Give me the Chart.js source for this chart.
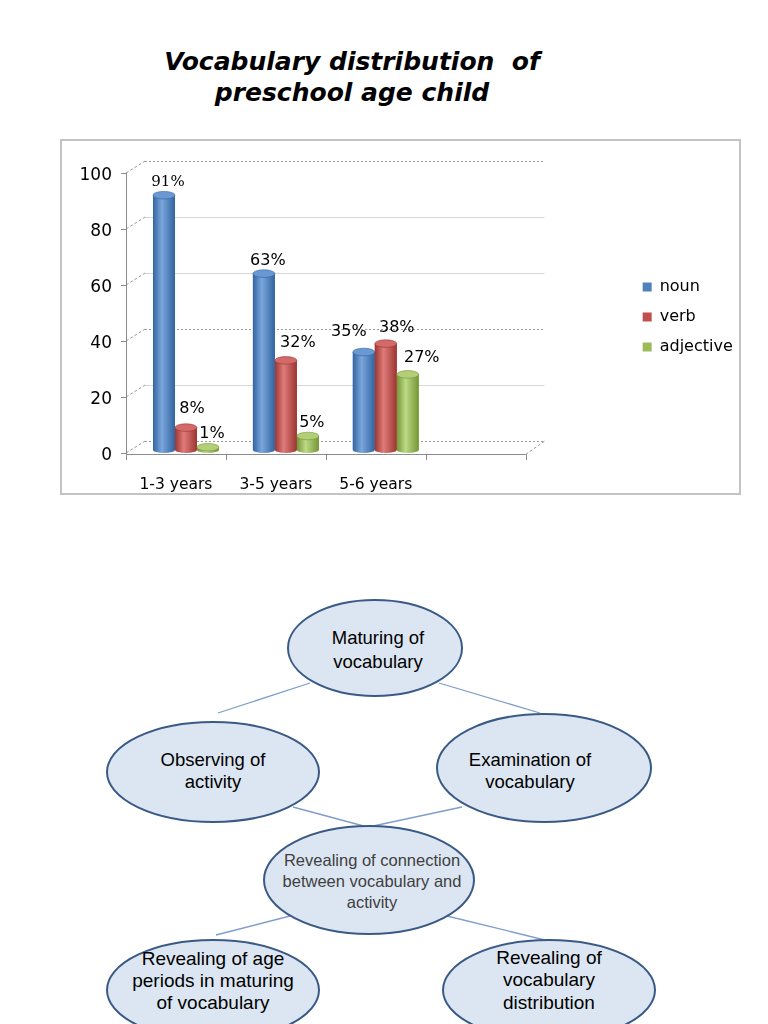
<!DOCTYPE html>
<html><head><meta charset="utf-8">
<script src="https://cdn.jsdelivr.net/npm/chart.js@4.4.1/dist/chart.umd.min.js"></script>
<style>
html,body{margin:0;padding:0;background:#fff;width:768px;height:1024px;overflow:hidden;position:relative;font-family:"DejaVu Sans";}
#title{position:absolute;left:0;width:704px;top:46px;text-align:center;font:italic bold 25px "DejaVu Sans";line-height:31px;color:#000;}
#frame{position:absolute;left:60px;top:139px;width:681px;height:356px;border:2px solid #c3c3c3;box-sizing:border-box;z-index:2;pointer-events:none;}
#wrap{position:absolute;left:62px;top:141px;width:680px;height:352px;z-index:1;}
#diagram{position:absolute;left:0;top:0;z-index:0;}
</style></head>
<body>
<div id="title">Vocabulary distribution&nbsp; of<br>preschool age child</div>
<div id="frame"></div>
<div id="wrap"><canvas id="c" width="680" height="352"></canvas></div>
<svg id="diagram" width="768" height="1024" xmlns="http://www.w3.org/2000/svg">
  <g stroke="#7f9dcb" stroke-width="1.3">
    <line x1="310" y1="683" x2="218" y2="713"/>
    <line x1="439" y1="683" x2="540" y2="713"/>
    <line x1="293" y1="807" x2="371" y2="828"/>
    <line x1="462" y1="807" x2="364" y2="828"/>
    <line x1="290" y1="916" x2="216" y2="935"/>
    <line x1="447" y1="916" x2="553" y2="942"/>
  </g>
  <g fill="#dce6f2" stroke="#3a5a85" stroke-width="2">
    <ellipse cx="375" cy="648" rx="87" ry="48"/>
    <ellipse cx="213" cy="772" rx="106" ry="50"/>
    <ellipse cx="544" cy="768" rx="107" ry="54"/>
    <ellipse cx="369" cy="880" rx="105" ry="54"/>
    <ellipse cx="213" cy="990" rx="106" ry="50"/>
    <ellipse cx="549" cy="990" rx="106" ry="50"/>
  </g>
  <g font-family="Liberation Sans" font-size="18.5" fill="#000" text-anchor="middle">
    <text x="378" y="644">Maturing of</text>
    <text x="378" y="668">vocabulary</text>
    <text x="213" y="766">Observing of</text>
    <text x="213" y="788">activity</text>
    <text x="530" y="766">Examination of</text>
    <text x="530" y="788">vocabulary</text>
  </g>
  <g font-family="Liberation Sans" font-size="16.5" fill="#404040" text-anchor="middle">
    <text x="372" y="866">Revealing of connection</text>
    <text x="372" y="887">between vocabulary and</text>
    <text x="372" y="908">activity</text>
  </g>
  <g font-family="Liberation Sans" font-size="19" fill="#000" text-anchor="middle">
    <text x="213" y="965">Revealing of age</text>
    <text x="213" y="987">periods in maturing</text>
    <text x="213" y="1009">of vocabulary</text>
    <text x="549" y="964">Revealing of</text>
    <text x="549" y="986">vocabulary</text>
    <text x="549" y="1009">distribution</text>
  </g>
</svg>
<script>
// ---- data ----
const categories = ['1-3 years', '3-5 years', '5-6 years', ''];
const seriesNames = ['noun', 'verb', 'adjective'];
const nounValues = [91, 63, 35, null];
const verbValues = [8, 32, 38, null];
const adjectiveValues = [1, 5, 27, null];
const yTicks = [0, 20, 40, 60, 80, 100];

// ---- style ----
const colors = [
  {base:'#4f81bd', dark:'#32649f', light:'#7aa6dc', cap:'#6a98d2'},
  {base:'#c0504d', dark:'#9a3532', light:'#df7b78', cap:'#d46a67'},
  {base:'#9bbb59', dark:'#769536', light:'#bcd985', cap:'#b2cf77'}
];
const DX = 19, DY = -12, FRONT = -10, FRONT_DY = 3;
const labelNudge = {'1-0':[2,-6], '1-1':[8,-5], '0-2':[-19,-7], '1-2':[7,-3], '2-2':[10,-4]};

const box3d = {
  id: 'box3d',
  beforeDatasetsDraw(chart) {
    const {ctx, chartArea: a, scales: {x, y}} = chart;
    const fx = a.left + FRONT, fr = a.right + FRONT;
    const y0 = y.getPixelForValue(0) + FRONT_DY;
    ctx.save();
    yTicks.forEach((v) => {
      const py = y.getPixelForValue(v) + FRONT_DY;
      ctx.beginPath();
      if (v === 0 || v === 40 || v === 100) { ctx.setLineDash([2, 2]); ctx.strokeStyle = '#9a9a9a'; }
      else { ctx.setLineDash([]); ctx.strokeStyle = '#d6d6d6'; }
      ctx.lineWidth = 1;
      ctx.moveTo(fx + DX, py + DY + 0.5); ctx.lineTo(fr + DX, py + DY + 0.5); ctx.stroke();
      ctx.beginPath(); ctx.setLineDash([3, 2]); ctx.strokeStyle = '#9a9a9a';
      ctx.moveTo(fx, py); ctx.lineTo(fx + DX, py + DY); ctx.stroke();
      ctx.beginPath(); ctx.setLineDash([]); ctx.strokeStyle = '#8c8c8c';
      ctx.moveTo(fx - 5, py + 0.5); ctx.lineTo(fx, py + 0.5); ctx.stroke();
    });
    ctx.setLineDash([]);
    ctx.strokeStyle = '#8c8c8c'; ctx.lineWidth = 1;
    ctx.beginPath(); ctx.moveTo(fx + 0.5, y.getPixelForValue(100) + FRONT_DY); ctx.lineTo(fx + 0.5, y0 + 1); ctx.stroke();
    ctx.beginPath(); ctx.moveTo(fx, y0 + 1.5); ctx.lineTo(fr, y0 + 1.5); ctx.stroke();
    const cw = (a.right - a.left) / categories.length;
    for (let i = 0; i <= categories.length; i++) {
      const px = Math.round(fx + i * cw) + 0.5;
      ctx.beginPath(); ctx.moveTo(px, y0 + 1); ctx.lineTo(px, y0 + 7); ctx.stroke();
    }
    ctx.beginPath(); ctx.setLineDash([3, 2]); ctx.strokeStyle = '#9a9a9a';
    ctx.moveTo(fr, y0 + 1.5); ctx.lineTo(fr + DX, y0 + DY); ctx.stroke();
    ctx.restore();
  },
  afterDatasetsDraw(chart) {
    const {ctx} = chart;
    ctx.save();
    chart.data.datasets.forEach((ds, di) => {
      const meta = chart.getDatasetMeta(di);
      const c = colors[di];
      meta.data.forEach((el, i) => {
        const v = ds.data[i];
        if (v === null || v === undefined) return;
        const w = el.width, left = el.x - w / 2;
        const g = ctx.createLinearGradient(left, 0, left + w, 0);
        g.addColorStop(0, c.dark); g.addColorStop(0.4, c.light); g.addColorStop(1, c.dark);
        ctx.fillStyle = g;
        ctx.fillRect(left, el.y, w, el.base - el.y);
        ctx.beginPath(); ctx.ellipse(el.x, el.base, w / 2, 3, 0, 0, Math.PI); ctx.fill();
        ctx.beginPath(); ctx.ellipse(el.x, el.y, w / 2, 3.8, 0, 0, 2 * Math.PI);
        ctx.fillStyle = c.cap; ctx.fill();
        ctx.strokeStyle = c.dark; ctx.lineWidth = 0.6; ctx.stroke();
        const n = labelNudge[di + '-' + i] || [0, 0];
        ctx.fillStyle = '#000';
        ctx.font = (di === 0 && i === 0) ? '15px "DejaVu Serif"' : '16px "DejaVu Sans"';
        ctx.textAlign = 'center'; ctx.textBaseline = 'middle';
        ctx.fillText(v + '%', el.x + 4 + n[0], el.y - 13 + n[1]);
      });
    });
    ctx.restore();
  }
};

new Chart(document.getElementById('c'), {
  type: 'bar',
  data: {
    labels: categories,
    datasets: [
      {label: seriesNames[0], data: nounValues, backgroundColor: colors[0].base},
      {label: seriesNames[1], data: verbValues, backgroundColor: colors[1].base},
      {label: seriesNames[2], data: adjectiveValues, backgroundColor: colors[2].base}
    ]
  },
  options: {
    responsive: false,
    animation: false,
    devicePixelRatio: 1,
    layout: {padding: 0},
    datasets: {bar: {categoryPercentage: 0.66, barPercentage: 1.0}},
    plugins: {
      legend: {
        position: 'right',
        labels: {boxWidth: 9, boxHeight: 9, padding: 14, color: '#000', font: {family: 'DejaVu Sans', size: 16}}
      },
      tooltip: {enabled: false},
      title: {display: false}
    },
    scales: {
      x: {
        grid: {display: false}, border: {display: false},
        ticks: {color: '#000', font: {family: 'DejaVu Sans', size: 15.5}, labelOffset: -10, padding: 18, autoSkip: false, maxRotation: 0},
        afterFit(s) { s.height = 43; }
      },
      x2: {
        type: 'category', position: 'top', display: true,
        grid: {display: false}, border: {display: false},
        ticks: {display: false},
        afterFit(s) { s.height = 29; }
      },
      y: {
        min: 0, max: 100,
        grid: {display: false}, border: {display: false},
        ticks: {stepSize: 20, color: '#000', font: {family: 'DejaVu Sans', size: 17}, padding: 16, labelOffset: 6},
        afterFit(s) { s.width = 74; }
      },
      y2: {
        position: 'right', display: true,
        grid: {display: false}, border: {display: false},
        ticks: {display: false},
        afterFit(s) { s.width = 93; }
      }
    }
  },
  plugins: [box3d]
});
</script>
</body></html>
